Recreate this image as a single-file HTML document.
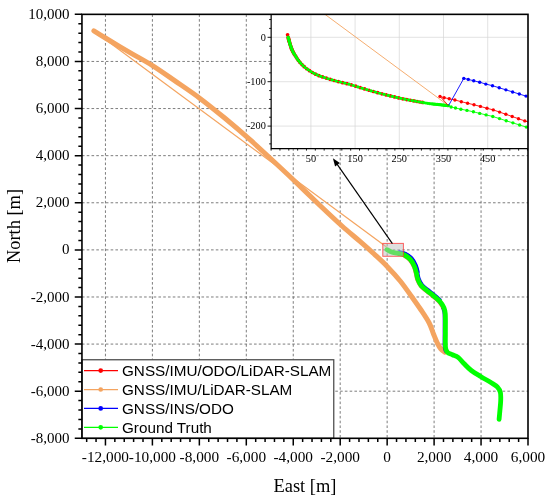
<!DOCTYPE html><html><head><meta charset="utf-8"><title>Trajectory</title><style>html,body{margin:0;padding:0;background:#fff}svg{display:block}text{font-family:"Liberation Serif",serif;fill:#000}.l{font-family:"Liberation Sans",sans-serif}</style></head><body>
<svg width="550" height="502" viewBox="0 0 550 502">
<rect width="550" height="502" fill="#fff"/>
<path d="M105.45 14.35 V438.30 M152.40 14.35 V438.30 M199.35 14.35 V438.30 M246.30 14.35 V438.30 M293.25 14.35 V438.30 M340.20 14.35 V438.30 M387.15 14.35 V438.30 M434.10 14.35 V438.30 M481.05 14.35 V438.30 M81.95 391.20 H528.00 M81.95 344.09 H528.00 M81.95 296.99 H528.00 M81.95 249.88 H528.00 M81.95 202.77 H528.00 M81.95 155.67 H528.00 M81.95 108.56 H528.00 M81.95 61.45 H528.00" stroke="#6e6e6e" stroke-width="0.9" stroke-dasharray="2.6 2.18" fill="none"/>
<path d="M93.2 30.5 L386.5 247" stroke="#F4A460" stroke-width="1.25" fill="none"/>
<path d="M93.90 30.80 C95.83 32.00 99.43 34.37 105.45 38.00 C111.47 41.63 122.16 48.00 130.00 52.60 C137.84 57.20 145.00 60.88 152.50 65.60 C160.00 70.32 167.08 75.43 175.00 80.90 C182.92 86.37 191.67 92.17 200.00 98.40 C208.33 104.63 216.67 111.42 225.00 118.30 C233.33 125.18 242.50 133.08 250.00 139.70 C257.50 146.32 262.83 151.37 270.00 158.00 C277.17 164.63 284.67 171.58 293.00 179.50 C301.33 187.42 311.83 197.75 320.00 205.50 C328.17 213.25 335.33 220.02 342.00 226.00 C348.67 231.98 354.50 236.60 360.00 241.40 C365.50 246.20 370.48 250.63 375.00 254.80 C379.52 258.97 382.92 262.00 387.15 266.40 C391.38 270.80 396.29 276.13 400.40 281.20 C404.51 286.27 408.42 292.08 411.80 296.80 C415.18 301.52 417.80 305.13 420.70 309.50 C423.60 313.87 427.07 318.92 429.20 323.00 C431.33 327.08 432.17 330.70 433.50 334.00 C434.83 337.30 435.98 340.33 437.20 342.80 C438.42 345.27 439.50 347.23 440.80 348.80 C442.10 350.37 444.30 351.63 445.00 352.20" stroke="#F4A460" stroke-width="5" fill="none" stroke-linecap="round" stroke-linejoin="round"/>
<path d="M398.00 253.30 C399.08 253.58 402.45 253.98 404.50 255.00 C406.55 256.02 408.65 257.53 410.30 259.40 C411.95 261.27 413.40 263.98 414.40 266.20 C415.40 268.42 415.72 270.48 416.30 272.70 C416.88 274.92 417.08 277.35 417.90 279.50 C418.72 281.65 419.65 283.72 421.20 285.60 C422.75 287.48 425.13 289.08 427.20 290.80 C429.27 292.52 431.50 294.13 433.60 295.90 C435.70 297.67 438.77 300.48 439.80 301.40" stroke="#0000FF" stroke-width="4.4" fill="none" stroke-linecap="butt" transform="translate(0.7,-0.5)"/>
<path d="M398.00 253.30 C399.08 253.58 402.45 253.98 404.50 255.00 C406.55 256.02 408.65 257.53 410.30 259.40 C411.95 261.27 413.40 263.98 414.40 266.20 C415.40 268.42 415.98 271.62 416.30 272.70" stroke="#0000FF" stroke-width="4.4" fill="none" stroke-linecap="round" transform="translate(1.15,-0.85)"/>
<path d="M443.80 307.50 C444.05 308.58 445.03 309.80 445.30 314.00 C445.57 318.20 445.37 327.12 445.40 332.70 C445.43 338.28 445.15 344.22 445.50 347.50 C445.85 350.78 447.17 351.58 447.50 352.40" stroke="#3a20c0" stroke-width="4.4" fill="none" stroke-linecap="butt" transform="translate(-0.55,0)"/>
<path d="M404.50 255.00 C405.47 255.73 408.65 257.53 410.30 259.40 C411.95 261.27 413.40 263.98 414.40 266.20 C415.40 268.42 415.72 270.48 416.30 272.70 C416.88 274.92 417.08 277.35 417.90 279.50 C418.72 281.65 419.65 283.72 421.20 285.60 C422.75 287.48 425.13 289.08 427.20 290.80 C429.27 292.52 431.50 294.13 433.60 295.90 C435.70 297.67 438.10 299.47 439.80 301.40 C441.50 303.33 443.13 306.48 443.80 307.50" stroke="#FF0000" stroke-opacity="0.6" stroke-width="4.4" fill="none" stroke-linecap="butt" transform="translate(-0.35,0.3)"/>
<path d="M387.00 249.70 C387.75 250.08 389.67 251.40 391.50 252.00 C393.33 252.60 395.83 252.80 398.00 253.30 C400.17 253.80 402.45 253.98 404.50 255.00 C406.55 256.02 408.65 257.53 410.30 259.40 C411.95 261.27 413.40 263.98 414.40 266.20 C415.40 268.42 415.72 270.48 416.30 272.70 C416.88 274.92 417.08 277.35 417.90 279.50 C418.72 281.65 419.65 283.72 421.20 285.60 C422.75 287.48 425.13 289.08 427.20 290.80 C429.27 292.52 431.50 294.13 433.60 295.90 C435.70 297.67 438.10 299.47 439.80 301.40 C441.50 303.33 442.88 305.40 443.80 307.50 C444.72 309.60 445.03 309.80 445.30 314.00 C445.57 318.20 445.37 327.12 445.40 332.70 C445.43 338.28 445.15 344.22 445.50 347.50 C445.85 350.78 446.35 351.18 447.50 352.40 C448.65 353.62 450.63 353.98 452.40 354.80 C454.17 355.62 456.18 355.85 458.10 357.30 C460.02 358.75 461.70 361.30 463.90 363.50 C466.10 365.70 468.43 368.30 471.30 370.50 C474.17 372.70 477.83 374.70 481.10 376.70 C484.37 378.70 488.17 380.77 490.90 382.50 C493.63 384.23 495.92 385.43 497.50 387.10 C499.08 388.77 499.87 390.23 500.40 392.50 C500.93 394.77 500.78 397.70 500.70 400.70 C500.62 403.70 500.17 407.40 499.90 410.50 C499.63 413.60 499.23 417.83 499.10 419.30" stroke="#00FF00" stroke-width="4.8" fill="none" stroke-linecap="round" stroke-linejoin="round"/>
<rect x="382.8" y="243.4" width="20.6" height="12.9" fill="#c0c0c0" fill-opacity="0.52" stroke="#ff3030" stroke-opacity="0.75" stroke-width="1"/>
<path d="M392.4 243.7 L336.5 163.4" stroke="#000" stroke-width="1.15" fill="none"/>
<path d="M332.9 158.2 L339.85 163.1 L335.09 166.42 Z" fill="#000"/>
<rect x="271.15" y="14.35" width="256.85" height="134.25" fill="#fff"/>
<path d="M310.90 14.35 V148.60 M355.10 14.35 V148.60 M399.30 14.35 V148.60 M443.50 14.35 V148.60 M487.70 14.35 V148.60 M271.15 37.30 H528.00 M271.15 81.70 H528.00 M271.15 126.10 H528.00" stroke="#d6d6d6" stroke-width="0.7" fill="none"/>
<clipPath id="c"><rect x="271.15" y="14.35" width="256.85" height="134.25"/></clipPath>
<g clip-path="url(#c)">
<path d="M324.5 14 L447.50 104.90" stroke="#F4A460" stroke-width="0.9" fill="none"/>
<g fill="#FF0000"><circle cx="287.60" cy="34.80" r="1.85"/><circle cx="288.26" cy="37.57" r="1.85"/><circle cx="288.48" cy="38.44" r="1.85"/><circle cx="288.72" cy="39.33" r="1.85"/><circle cx="288.95" cy="40.24" r="1.85"/><circle cx="289.19" cy="41.16" r="1.85"/><circle cx="289.44" cy="42.10" r="1.85"/><circle cx="289.72" cy="43.06" r="1.85"/><circle cx="290.01" cy="44.04" r="1.85"/><circle cx="290.34" cy="45.03" r="1.85"/><circle cx="290.67" cy="46.04" r="1.85"/><circle cx="291.02" cy="47.07" r="1.85"/><circle cx="291.40" cy="48.13" r="1.85"/><circle cx="291.81" cy="49.21" r="1.85"/><circle cx="292.27" cy="50.30" r="1.85"/><circle cx="292.81" cy="51.44" r="1.85"/><circle cx="293.44" cy="52.64" r="1.85"/><circle cx="294.19" cy="53.93" r="1.85"/><circle cx="295.05" cy="55.33" r="1.85"/><circle cx="296.03" cy="56.85" r="1.85"/><circle cx="297.13" cy="58.53" r="1.85"/><circle cx="298.41" cy="60.38" r="1.85"/><circle cx="299.99" cy="62.41" r="1.85"/><circle cx="301.96" cy="64.56" r="1.85"/><circle cx="304.22" cy="66.70" r="1.85"/><circle cx="306.74" cy="68.75" r="1.85"/><circle cx="309.51" cy="70.67" r="1.85"/><circle cx="312.45" cy="72.49" r="1.85"/><circle cx="315.58" cy="74.19" r="1.85"/><circle cx="318.96" cy="75.66" r="1.85"/><circle cx="322.55" cy="76.90" r="1.85"/><circle cx="326.29" cy="78.12" r="1.85"/><circle cx="330.17" cy="79.33" r="1.85"/><circle cx="334.20" cy="80.50" r="1.85"/><circle cx="338.34" cy="81.58" r="1.85"/><circle cx="342.58" cy="82.64" r="1.85"/><circle cx="346.92" cy="83.63" r="1.85"/><circle cx="351.29" cy="84.84" r="1.85"/><circle cx="355.71" cy="86.20" r="1.85"/><circle cx="360.17" cy="87.60" r="1.85"/><circle cx="364.60" cy="88.97" r="1.85"/><circle cx="369.00" cy="90.25" r="1.85"/><circle cx="373.36" cy="91.49" r="1.85"/><circle cx="377.68" cy="92.67" r="1.85"/><circle cx="381.96" cy="93.81" r="1.85"/><circle cx="386.20" cy="94.90" r="1.85"/><circle cx="390.41" cy="95.96" r="1.85"/><circle cx="394.58" cy="96.97" r="1.85"/><circle cx="398.73" cy="97.92" r="1.85"/><circle cx="402.83" cy="98.79" r="1.85"/><circle cx="406.76" cy="99.57" r="1.85"/><circle cx="410.45" cy="100.27" r="1.85"/><circle cx="413.89" cy="100.90" r="1.85"/><circle cx="417.10" cy="101.49" r="1.85"/><circle cx="420.00" cy="102.02" r="1.85"/><circle cx="422.56" cy="102.46" r="1.85"/></g>
<path d="M290.10 44.30 C290.50 45.38 291.55 48.77 292.50 50.80 C293.45 52.83 294.57 54.58 295.80 56.50 C297.03 58.42 298.40 60.52 299.90 62.30 C301.40 64.08 303.03 65.70 304.80 67.20 C306.57 68.70 308.45 70.02 310.50 71.30 C312.55 72.58 314.63 73.82 317.10 74.90 C319.57 75.98 322.57 76.90 325.30 77.80 C328.03 78.70 330.78 79.53 333.50 80.30 C336.22 81.07 338.88 81.72 341.60 82.40 C344.32 83.08 345.67 83.22 349.80 84.40 C353.93 85.58 360.92 87.90 366.40 89.50 C371.88 91.10 377.25 92.58 382.70 94.00 C388.15 95.42 393.63 96.80 399.10 98.00 C404.57 99.20 410.60 100.30 415.50 101.20 C420.40 102.10 424.42 102.82 428.50 103.40 C432.58 103.98 436.67 104.32 440.00 104.70 C443.33 105.08 447.08 105.53 448.50 105.70" stroke="#00FF00" stroke-width="0.9" fill="none"/>
<g fill="#00FF00"><circle cx="288.15" cy="37.14" r="1.6"/><circle cx="288.37" cy="38.00" r="1.6"/><circle cx="288.60" cy="38.88" r="1.6"/><circle cx="288.83" cy="39.78" r="1.6"/><circle cx="289.07" cy="40.70" r="1.6"/><circle cx="289.31" cy="41.63" r="1.6"/><circle cx="289.58" cy="42.58" r="1.6"/><circle cx="289.86" cy="43.54" r="1.6"/><circle cx="290.17" cy="44.52" r="1.6"/><circle cx="290.50" cy="45.53" r="1.6"/><circle cx="290.84" cy="46.55" r="1.6"/><circle cx="291.21" cy="47.60" r="1.6"/><circle cx="291.60" cy="48.66" r="1.6"/><circle cx="292.04" cy="49.75" r="1.6"/><circle cx="292.52" cy="50.85" r="1.6"/><circle cx="293.11" cy="52.02" r="1.6"/><circle cx="293.79" cy="53.26" r="1.6"/><circle cx="294.59" cy="54.60" r="1.6"/><circle cx="295.51" cy="56.05" r="1.6"/><circle cx="296.54" cy="57.65" r="1.6"/><circle cx="297.72" cy="59.40" r="1.6"/><circle cx="299.12" cy="61.34" r="1.6"/><circle cx="300.91" cy="63.45" r="1.6"/><circle cx="303.05" cy="65.63" r="1.6"/><circle cx="305.44" cy="67.73" r="1.6"/><circle cx="308.09" cy="69.72" r="1.6"/><circle cx="310.95" cy="71.58" r="1.6"/><circle cx="313.98" cy="73.36" r="1.6"/><circle cx="317.23" cy="74.96" r="1.6"/><circle cx="320.72" cy="76.29" r="1.6"/><circle cx="324.39" cy="77.50" r="1.6"/><circle cx="328.20" cy="78.73" r="1.6"/><circle cx="332.16" cy="79.92" r="1.6"/><circle cx="336.25" cy="81.04" r="1.6"/><circle cx="340.44" cy="82.11" r="1.6"/><circle cx="344.73" cy="83.12" r="1.6"/><circle cx="349.09" cy="84.20" r="1.6"/><circle cx="353.48" cy="85.51" r="1.6"/><circle cx="357.94" cy="86.90" r="1.6"/><circle cx="362.39" cy="88.29" r="1.6"/><circle cx="366.81" cy="89.62" r="1.6"/><circle cx="371.19" cy="90.88" r="1.6"/><circle cx="375.53" cy="92.09" r="1.6"/><circle cx="379.83" cy="93.25" r="1.6"/><circle cx="384.09" cy="94.36" r="1.6"/><circle cx="388.31" cy="95.44" r="1.6"/><circle cx="392.50" cy="96.47" r="1.6"/><circle cx="396.67" cy="97.45" r="1.6"/><circle cx="400.80" cy="98.37" r="1.6"/><circle cx="404.86" cy="99.20" r="1.6"/><circle cx="408.67" cy="99.93" r="1.6"/><circle cx="412.23" cy="100.60" r="1.6"/><circle cx="415.56" cy="101.21" r="1.6"/><circle cx="418.64" cy="101.77" r="1.6"/><circle cx="421.36" cy="102.26" r="1.6"/><circle cx="423.76" cy="102.66" r="1.6"/><circle cx="425.88" cy="103.01" r="1.6"/><circle cx="427.77" cy="103.29" r="1.6"/><circle cx="429.48" cy="103.54" r="1.6"/><circle cx="431.02" cy="103.73" r="1.6"/><circle cx="432.41" cy="103.89" r="1.6"/><circle cx="433.66" cy="104.03" r="1.6"/><circle cx="434.79" cy="104.15" r="1.6"/><circle cx="435.80" cy="104.26" r="1.6"/><circle cx="436.79" cy="104.36" r="1.6"/><circle cx="437.75" cy="104.46" r="1.6"/><circle cx="438.71" cy="104.56" r="1.6"/><circle cx="439.65" cy="104.66" r="1.6"/><circle cx="440.57" cy="104.77" r="1.6"/><circle cx="441.48" cy="104.87" r="1.6"/><circle cx="442.38" cy="104.98" r="1.6"/><circle cx="443.27" cy="105.08" r="1.6"/><circle cx="444.14" cy="105.18" r="1.6"/><circle cx="445.00" cy="105.28" r="1.6"/><circle cx="445.84" cy="105.38" r="1.6"/><circle cx="446.68" cy="105.48" r="1.6"/><circle cx="447.50" cy="105.58" r="1.6"/><circle cx="448.31" cy="105.68" r="1.6"/></g>
<path d="M448.50 105.70 L440.00 96.40 L444.10 97.70 L449.20 98.70 L454.90 100.00 L461.30 101.70 L467.60 103.20 L474.00 104.80 L480.40 106.40 L487.00 108.30 L493.30 109.90 L499.60 112.10 L505.90 114.31 L512.20 116.51 L518.50 118.72 L524.80 120.92 L531.10 123.12" stroke="#FF0000" stroke-width="0.9" fill="none"/>
<path d="M448.50 105.70 L463.80 78.40 L468.30 79.40 L473.70 80.80 L479.70 82.20 L485.80 84.10 L492.50 85.70 L499.20 87.78 L505.90 89.87 L512.60 91.95 L519.30 94.04 L526.00 96.12" stroke="#0000FF" stroke-width="0.9" fill="none"/>
<path d="M448.50 105.70 L451.10 107.00 L455.50 108.00 L460.90 109.20 L467.00 110.40 L473.40 111.80 L479.70 113.40 L486.10 114.90 L492.80 116.50 L499.50 118.62 L506.20 120.75 L512.90 122.87 L519.60 125.00 L526.30 127.12" stroke="#00FF00" stroke-width="0.9" fill="none"/>
<g fill="#FF0000"><circle cx="440.00" cy="96.40" r="1.7"/><circle cx="444.10" cy="97.70" r="1.7"/><circle cx="449.20" cy="98.70" r="1.7"/><circle cx="454.90" cy="100.00" r="1.7"/><circle cx="461.30" cy="101.70" r="1.7"/><circle cx="467.60" cy="103.20" r="1.7"/><circle cx="474.00" cy="104.80" r="1.7"/><circle cx="480.40" cy="106.40" r="1.7"/><circle cx="487.00" cy="108.30" r="1.7"/><circle cx="493.30" cy="109.90" r="1.7"/><circle cx="499.60" cy="112.10" r="1.7"/><circle cx="505.90" cy="114.31" r="1.7"/><circle cx="512.20" cy="116.51" r="1.7"/><circle cx="518.50" cy="118.72" r="1.7"/><circle cx="524.80" cy="120.92" r="1.7"/><circle cx="531.10" cy="123.12" r="1.7"/></g>
<g fill="#0000FF"><circle cx="463.80" cy="78.40" r="1.7"/><circle cx="468.30" cy="79.40" r="1.7"/><circle cx="473.70" cy="80.80" r="1.7"/><circle cx="479.70" cy="82.20" r="1.7"/><circle cx="485.80" cy="84.10" r="1.7"/><circle cx="492.50" cy="85.70" r="1.7"/><circle cx="499.20" cy="87.78" r="1.7"/><circle cx="505.90" cy="89.87" r="1.7"/><circle cx="512.60" cy="91.95" r="1.7"/><circle cx="519.30" cy="94.04" r="1.7"/><circle cx="526.00" cy="96.12" r="1.7"/></g>
<g fill="#00FF00"><circle cx="451.10" cy="107.00" r="1.7"/><circle cx="455.50" cy="108.00" r="1.7"/><circle cx="460.90" cy="109.20" r="1.7"/><circle cx="467.00" cy="110.40" r="1.7"/><circle cx="473.40" cy="111.80" r="1.7"/><circle cx="479.70" cy="113.40" r="1.7"/><circle cx="486.10" cy="114.90" r="1.7"/><circle cx="492.80" cy="116.50" r="1.7"/><circle cx="499.50" cy="118.62" r="1.7"/><circle cx="506.20" cy="120.75" r="1.7"/><circle cx="512.90" cy="122.87" r="1.7"/><circle cx="519.60" cy="125.00" r="1.7"/><circle cx="526.30" cy="127.12" r="1.7"/></g>
</g>
<path d="M271.12 148.60 v2.00 M279.96 148.60 v2.00 M288.80 148.60 v2.00 M297.64 148.60 v2.00 M306.48 148.60 v2.00 M315.32 148.60 v2.00 M324.16 148.60 v2.00 M333.00 148.60 v2.00 M341.84 148.60 v2.00 M350.68 148.60 v2.00 M359.52 148.60 v2.00 M368.36 148.60 v2.00 M377.20 148.60 v2.00 M386.04 148.60 v2.00 M394.88 148.60 v2.00 M403.72 148.60 v2.00 M412.56 148.60 v2.00 M421.40 148.60 v2.00 M430.24 148.60 v2.00 M439.08 148.60 v2.00 M447.92 148.60 v2.00 M456.76 148.60 v2.00 M465.60 148.60 v2.00 M474.44 148.60 v2.00 M483.28 148.60 v2.00 M492.12 148.60 v2.00 M500.96 148.60 v2.00 M509.80 148.60 v2.00 M518.64 148.60 v2.00 M527.48 148.60 v2.00 M271.15 19.54 h-2.00 M271.15 28.42 h-2.00 M271.15 37.30 h-3.60 M271.15 46.18 h-2.00 M271.15 55.06 h-2.00 M271.15 63.94 h-2.00 M271.15 72.82 h-2.00 M271.15 81.70 h-3.60 M271.15 90.58 h-2.00 M271.15 99.46 h-2.00 M271.15 108.34 h-2.00 M271.15 117.22 h-2.00 M271.15 126.10 h-3.60 M271.15 134.98 h-2.00 M271.15 143.86 h-2.00" stroke="#000" stroke-width="0.9" fill="none"/>
<path d="M271.15 14.35 V148.60 H528.00" stroke="#000" stroke-width="1.2" fill="none"/>
<text x="310.90" y="161.6" font-size="10.3" text-anchor="middle">50</text>
<text x="355.10" y="161.6" font-size="10.3" text-anchor="middle">150</text>
<text x="399.30" y="161.6" font-size="10.3" text-anchor="middle">250</text>
<text x="443.50" y="161.6" font-size="10.3" text-anchor="middle">350</text>
<text x="487.70" y="161.6" font-size="10.3" text-anchor="middle">450</text>
<text x="265.8" y="40.50" font-size="10.3" text-anchor="end">0</text>
<text x="265.8" y="84.90" font-size="10.3" text-anchor="end">-100</text>
<text x="265.8" y="129.30" font-size="10.3" text-anchor="end">-200</text>
<rect x="81.95" y="359.75" width="251.80" height="78.55" fill="#fff" stroke="#505050" stroke-width="1.3"/>
<path d="M84 370.60 H118" stroke="#FF0000" stroke-width="1.25"/><circle cx="100.7" cy="370.60" r="2.35" fill="#FF0000"/>
<text class="l" x="122.0" y="375.90" font-size="15.25">GNSS/IMU/ODO/LiDAR-SLAM</text>
<path d="M84 389.50 H118" stroke="#F4A460" stroke-width="1.25"/><circle cx="100.7" cy="389.50" r="2.35" fill="#F4A460"/>
<text class="l" x="122.0" y="394.80" font-size="15.25">GNSS/IMU/LiDAR-SLAM</text>
<path d="M84 408.40 H118" stroke="#0000FF" stroke-width="1.25"/><circle cx="100.7" cy="408.40" r="2.35" fill="#0000FF"/>
<text class="l" x="122.0" y="413.70" font-size="15.25">GNSS/INS/ODO</text>
<path d="M84 427.30 H118" stroke="#00FF00" stroke-width="1.25"/><circle cx="100.7" cy="427.30" r="2.35" fill="#00FF00"/>
<text class="l" x="122.0" y="432.60" font-size="15.25">Ground Truth</text>
<path d="M86.67 438.30 v3.60 M96.06 438.30 v3.60 M105.45 438.30 v7.20 M114.84 438.30 v3.60 M124.23 438.30 v3.60 M133.62 438.30 v3.60 M143.01 438.30 v3.60 M152.40 438.30 v7.20 M161.79 438.30 v3.60 M171.18 438.30 v3.60 M180.57 438.30 v3.60 M189.96 438.30 v3.60 M199.35 438.30 v7.20 M208.74 438.30 v3.60 M218.13 438.30 v3.60 M227.52 438.30 v3.60 M236.91 438.30 v3.60 M246.30 438.30 v7.20 M255.69 438.30 v3.60 M265.08 438.30 v3.60 M274.47 438.30 v3.60 M283.86 438.30 v3.60 M293.25 438.30 v7.20 M302.64 438.30 v3.60 M312.03 438.30 v3.60 M321.42 438.30 v3.60 M330.81 438.30 v3.60 M340.20 438.30 v7.20 M349.59 438.30 v3.60 M358.98 438.30 v3.60 M368.37 438.30 v3.60 M377.76 438.30 v3.60 M387.15 438.30 v7.20 M396.54 438.30 v3.60 M405.93 438.30 v3.60 M415.32 438.30 v3.60 M424.71 438.30 v3.60 M434.10 438.30 v7.20 M443.49 438.30 v3.60 M452.88 438.30 v3.60 M462.27 438.30 v3.60 M471.66 438.30 v3.60 M481.05 438.30 v7.20 M490.44 438.30 v3.60 M499.83 438.30 v3.60 M509.22 438.30 v3.60 M518.61 438.30 v3.60 M528.00 438.30 v7.20 M81.95 438.31 h-7.20 M81.95 428.89 h-3.60 M81.95 419.47 h-3.60 M81.95 410.04 h-3.60 M81.95 400.62 h-3.60 M81.95 391.20 h-7.20 M81.95 381.78 h-3.60 M81.95 372.36 h-3.60 M81.95 362.94 h-3.60 M81.95 353.52 h-3.60 M81.95 344.09 h-7.20 M81.95 334.67 h-3.60 M81.95 325.25 h-3.60 M81.95 315.83 h-3.60 M81.95 306.41 h-3.60 M81.95 296.99 h-7.20 M81.95 287.57 h-3.60 M81.95 278.14 h-3.60 M81.95 268.72 h-3.60 M81.95 259.30 h-3.60 M81.95 249.88 h-7.20 M81.95 240.46 h-3.60 M81.95 231.04 h-3.60 M81.95 221.62 h-3.60 M81.95 212.19 h-3.60 M81.95 202.77 h-7.20 M81.95 193.35 h-3.60 M81.95 183.93 h-3.60 M81.95 174.51 h-3.60 M81.95 165.09 h-3.60 M81.95 155.67 h-7.20 M81.95 146.24 h-3.60 M81.95 136.82 h-3.60 M81.95 127.40 h-3.60 M81.95 117.98 h-3.60 M81.95 108.56 h-7.20 M81.95 99.14 h-3.60 M81.95 89.72 h-3.60 M81.95 80.29 h-3.60 M81.95 70.87 h-3.60 M81.95 61.45 h-7.20 M81.95 52.03 h-3.60 M81.95 42.61 h-3.60 M81.95 33.19 h-3.60 M81.95 23.77 h-3.60 M81.95 14.35 h-7.20" stroke="#000" stroke-width="1.5" fill="none"/>
<rect x="81.95" y="14.35" width="446.05" height="423.95" fill="none" stroke="#000" stroke-width="1.6"/>
<text x="105.45" y="462.3" font-size="15.3" text-anchor="middle">-12,000</text>
<text x="152.40" y="462.3" font-size="15.3" text-anchor="middle">-10,000</text>
<text x="199.35" y="462.3" font-size="15.3" text-anchor="middle">-8,000</text>
<text x="246.30" y="462.3" font-size="15.3" text-anchor="middle">-6,000</text>
<text x="293.25" y="462.3" font-size="15.3" text-anchor="middle">-4,000</text>
<text x="340.20" y="462.3" font-size="15.3" text-anchor="middle">-2,000</text>
<text x="387.15" y="462.3" font-size="15.3" text-anchor="middle">0</text>
<text x="434.10" y="462.3" font-size="15.3" text-anchor="middle">2,000</text>
<text x="481.05" y="462.3" font-size="15.3" text-anchor="middle">4,000</text>
<text x="528.00" y="462.3" font-size="15.3" text-anchor="middle">6,000</text>
<text x="69.5" y="442.86" font-size="15" text-anchor="end">-8,000</text>
<text x="69.5" y="395.75" font-size="15" text-anchor="end">-6,000</text>
<text x="69.5" y="348.64" font-size="15" text-anchor="end">-4,000</text>
<text x="69.5" y="301.54" font-size="15" text-anchor="end">-2,000</text>
<text x="69.5" y="254.43" font-size="15" text-anchor="end">0</text>
<text x="69.5" y="207.32" font-size="15" text-anchor="end">2,000</text>
<text x="69.5" y="160.22" font-size="15" text-anchor="end">4,000</text>
<text x="69.5" y="113.11" font-size="15" text-anchor="end">6,000</text>
<text x="69.5" y="66.00" font-size="15" text-anchor="end">8,000</text>
<text x="69.5" y="18.90" font-size="15" text-anchor="end">10,000</text>
<text x="305" y="491.6" font-size="18.45" text-anchor="middle">East [m]</text>
<text transform="translate(20.3,226) rotate(-90)" font-size="18.4" text-anchor="middle">North [m]</text>
</svg></body></html>
